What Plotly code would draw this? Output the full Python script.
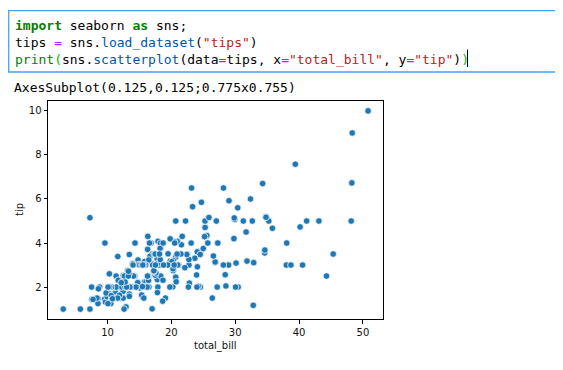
import plotly.graph_objects as go

# ---- data: seaborn "tips" dataset (total_bill, tip) ----
total_bill = [16.99, 10.34, 21.01, 23.68, 24.59, 25.29, 8.77, 26.88, 15.04, 14.78,
              10.27, 35.26, 15.42, 18.43, 14.83, 21.58, 10.33, 16.29, 16.97, 20.65,
              17.92, 20.29, 15.77, 39.42, 19.82, 17.81, 13.37, 12.69, 21.7, 19.65,
              9.55, 18.35, 15.06, 20.69, 17.78, 24.06, 16.31, 16.93, 18.69, 31.27,
              16.04, 17.46, 13.94, 9.68, 30.4, 18.29, 22.23, 32.4, 28.55, 18.04,
              12.54, 10.29, 34.81, 9.94, 25.56, 19.49, 38.01, 26.41, 11.24, 48.27,
              20.29, 13.81, 11.02, 18.29, 17.59, 20.08, 16.45, 3.07, 20.23, 15.01,
              12.02, 17.07, 26.86, 25.28, 14.73, 10.51, 17.92, 27.2, 22.76, 17.29,
              19.44, 16.66, 10.07, 32.68, 15.98, 34.83, 13.03, 18.28, 24.71, 21.16,
              28.97, 22.49, 5.75, 16.32, 22.75, 40.17, 27.28, 12.03, 21.01, 12.46,
              11.35, 15.38, 44.3, 22.42, 20.92, 15.36, 20.49, 25.21, 18.24, 14.31,
              14.0, 7.25, 38.07, 23.95, 25.71, 17.31, 29.93, 10.65, 12.43, 24.08,
              11.69, 13.42, 14.26, 15.95, 12.48, 29.8, 8.52, 14.52, 11.38, 22.82,
              19.08, 20.27, 11.17, 12.26, 18.26, 8.51, 10.33, 14.15, 16.0, 13.16,
              17.47, 34.3, 41.19, 27.05, 16.43, 8.35, 18.64, 11.87, 9.78, 7.51,
              14.07, 13.13, 17.26, 24.55, 19.77, 29.85, 48.17, 25.0, 13.39, 16.49,
              21.5, 12.66, 16.21, 13.81, 17.51, 24.52, 20.76, 31.71, 10.59, 10.63,
              50.81, 15.81, 7.25, 31.85, 16.82, 32.9, 17.89, 14.48, 9.6, 34.63,
              34.65, 23.33, 45.35, 23.17, 40.55, 20.69, 20.9, 30.46, 18.15, 23.1,
              15.69, 19.81, 28.44, 15.48, 16.58, 7.56, 10.34, 43.11, 13.0, 13.51,
              18.71, 12.74, 13.0, 16.4, 20.53, 16.47, 26.59, 38.73, 24.27, 12.76,
              30.06, 25.89, 48.33, 13.27, 28.17, 12.9, 28.15, 11.59, 7.74, 30.14,
              12.16, 13.42, 8.58, 15.98, 13.42, 16.27, 10.09, 20.45, 13.28, 22.12,
              24.01, 15.69, 11.61, 10.77, 15.53, 10.07, 12.6, 32.83, 35.83, 29.03,
              27.18, 22.67, 17.82, 18.78]
tip = [1.01, 1.66, 3.5, 3.31, 3.61, 4.71, 2.0, 3.12, 1.96, 3.23,
       1.71, 5.0, 1.57, 3.0, 3.02, 3.92, 1.67, 3.71, 3.5, 3.35,
       4.08, 2.75, 2.23, 7.58, 3.18, 2.34, 2.0, 2.0, 4.3, 3.0,
       1.45, 2.5, 3.0, 2.45, 3.27, 3.6, 2.0, 3.07, 2.31, 5.0,
       2.24, 2.54, 3.06, 1.32, 5.6, 3.0, 5.0, 6.0, 2.05, 3.0,
       2.5, 2.6, 5.2, 1.56, 4.34, 3.51, 3.0, 1.5, 1.76, 6.73,
       3.21, 2.0, 1.98, 3.76, 2.64, 3.15, 2.47, 1.0, 2.01, 2.09,
       1.97, 3.0, 3.14, 5.0, 2.2, 1.25, 3.08, 4.0, 3.0, 2.71,
       3.0, 3.4, 1.83, 5.0, 2.03, 5.17, 2.0, 4.0, 5.85, 3.0,
       3.0, 3.5, 1.0, 4.3, 3.25, 4.73, 4.0, 1.5, 3.0, 1.5,
       2.5, 3.0, 2.5, 3.48, 4.08, 1.64, 4.06, 4.29, 3.76, 4.0,
       3.0, 1.0, 4.0, 2.55, 4.0, 3.5, 5.07, 1.5, 1.8, 2.92,
       2.31, 1.68, 2.5, 2.0, 2.52, 4.2, 1.48, 2.0, 2.0, 2.18,
       1.5, 2.83, 1.5, 2.0, 3.25, 1.25, 2.0, 2.0, 2.0, 2.75,
       3.5, 6.7, 5.0, 5.0, 2.3, 1.5, 1.36, 1.63, 1.73, 2.0,
       2.5, 2.0, 2.74, 2.0, 2.0, 5.14, 5.0, 3.75, 2.61, 2.0,
       3.5, 2.5, 2.0, 2.0, 3.0, 3.48, 2.24, 4.5, 1.61, 2.0,
       10.0, 3.16, 5.15, 3.18, 4.0, 3.11, 2.0, 2.0, 4.0, 3.55,
       3.68, 5.65, 3.5, 6.5, 3.0, 5.0, 3.5, 2.0, 3.5, 4.0,
       1.5, 4.19, 2.56, 2.02, 4.0, 1.44, 2.0, 5.0, 2.0, 2.0,
       4.0, 2.01, 2.0, 2.5, 4.0, 3.23, 3.41, 3.0, 2.03, 2.23,
       2.0, 5.16, 9.0, 2.5, 6.5, 1.1, 3.0, 1.5, 1.44, 3.09,
       2.2, 3.48, 1.92, 3.0, 1.58, 2.5, 2.0, 3.0, 2.72, 2.88,
       2.0, 3.0, 3.39, 1.47, 3.0, 1.25, 1.0, 1.17, 4.67, 5.92,
       2.0, 2.0, 1.75, 3.0]
x_ticks = [10, 20, 30, 40, 50]
y_ticks = [2, 4, 6, 8, 10]
x_label = "total_bill"
y_label = "tip"

# page is 563x370; the html body has an 8px margin, so the figure starts at (8, 8)
OFF = 8
W, H = 563 - OFF, 370 - OFF
def px(x):
    return (x - OFF) / W
def py(y):
    return 1 - (y - OFF) / H

# axes box (page pixels)
AX_L, AX_R, AX_T, AX_B = 48.0, 383.3, 101.0, 319.0

# matplotlib-like 5% margins
xmin, xmax = min(total_bill), max(total_bill)
ymin, ymax = min(tip), max(tip)
xpad = (xmax - xmin) * 0.05
ypad = (ymax - ymin) * 0.05

fig = go.Figure()
fig.add_trace(go.Scatter(
    x=total_bill, y=tip, mode="markers",
    marker=dict(color="#1f77b4", size=6.6, line=dict(color="white", width=0.75)),
    showlegend=False, hoverinfo="skip",
))

axis_common = dict(
    showline=True, mirror=True, linecolor="black", linewidth=1,
    ticks="outside", ticklen=3.5, tickwidth=0.8, tickcolor="black",
    showgrid=False, zeroline=False,
    tickfont=dict(family="DejaVu Sans", size=10, color="#111"),
)
fig.update_xaxes(domain=[px(AX_L), px(AX_R)], range=[xmin - xpad, xmax + xpad],
                 tickvals=x_ticks, **axis_common)
fig.update_yaxes(domain=[py(AX_B), py(AX_T)], range=[ymin - ypad, ymax + ypad],
                 tickvals=y_ticks, **axis_common)

# axis labels
fig.add_annotation(text=x_label, xref="paper", yref="paper",
                   x=px((AX_L + AX_R) / 2), y=py(346), xanchor="center", yanchor="middle",
                   showarrow=False, font=dict(family="DejaVu Sans", size=10, color="#111"))
fig.add_annotation(text=y_label, xref="paper", yref="paper", textangle=-90,
                   x=px(19), y=py((AX_T + AX_B) / 2), xanchor="center", yanchor="middle",
                   showarrow=False, font=dict(family="DejaVu Sans", size=10, color="#111"))

# code cell
GREEN = "#008000"
PURPLE = "#AA22FF"
BLUE = "#0055AA"
RED = "#BA2121"
MATCH = "#00BB00"
def c(t, col, bold=False):
    s = f'<span style="color:{col}">{t}</span>'
    return f"<b>{s}</b>" if bold else s

code_lines = [
    c("import", GREEN, True) + " seaborn " + c("as", GREEN, True) + " sns;",
    "tips " + c("=", PURPLE) + " sns." + c("load_dataset", BLUE) + "(" + c('"tips"', RED) + ")",
    c("print", GREEN) + c("(", MATCH) + "sns." + c("scatterplot", BLUE) + "(data" + c("=", PURPLE)
    + "tips, x" + c("=", PURPLE) + c('"total_bill"', RED) + ", y" + c("=", PURPLE)
    + c('"tip"', RED) + ")" + c(")", MATCH),
]
code_y = [25, 42.3, 59]
for line, yy in zip(code_lines, code_y):
    fig.add_annotation(text=line, xref="paper", yref="paper", x=px(13), y=py(yy),
                       xanchor="left", yanchor="middle", showarrow=False,
                       font=dict(family="DejaVu Sans Mono", size=13, color="#000"))

fig.add_annotation(text="AxesSubplot(0.125,0.125;0.775x0.755)", xref="paper", yref="paper",
                   x=px(12), y=py(87.3), xanchor="left", yanchor="middle", showarrow=False,
                   font=dict(family="DejaVu Sans Mono", size=13, color="#000"))

fig.add_shape(type="rect", xref="paper", yref="paper",
              x0=px(8.7), x1=px(580), y0=py(72), y1=py(10.7),
              line=dict(color="#42A5F5", width=1.3), fillcolor="rgba(0,0,0,0)", layer="below")
fig.add_shape(type="line", xref="paper", yref="paper",
              x0=px(467.5), x1=px(467.5), y0=py(67), y1=py(49.5),
              line=dict(color="black", width=1))

fig.update_layout(
    width=W, height=H, autosize=False,
    margin=dict(l=0, r=0, t=0, b=0, pad=0),
    paper_bgcolor="white", plot_bgcolor="white",
    font=dict(family="DejaVu Sans", size=10, color="#111"),
)

fig.write_html("out.html")
